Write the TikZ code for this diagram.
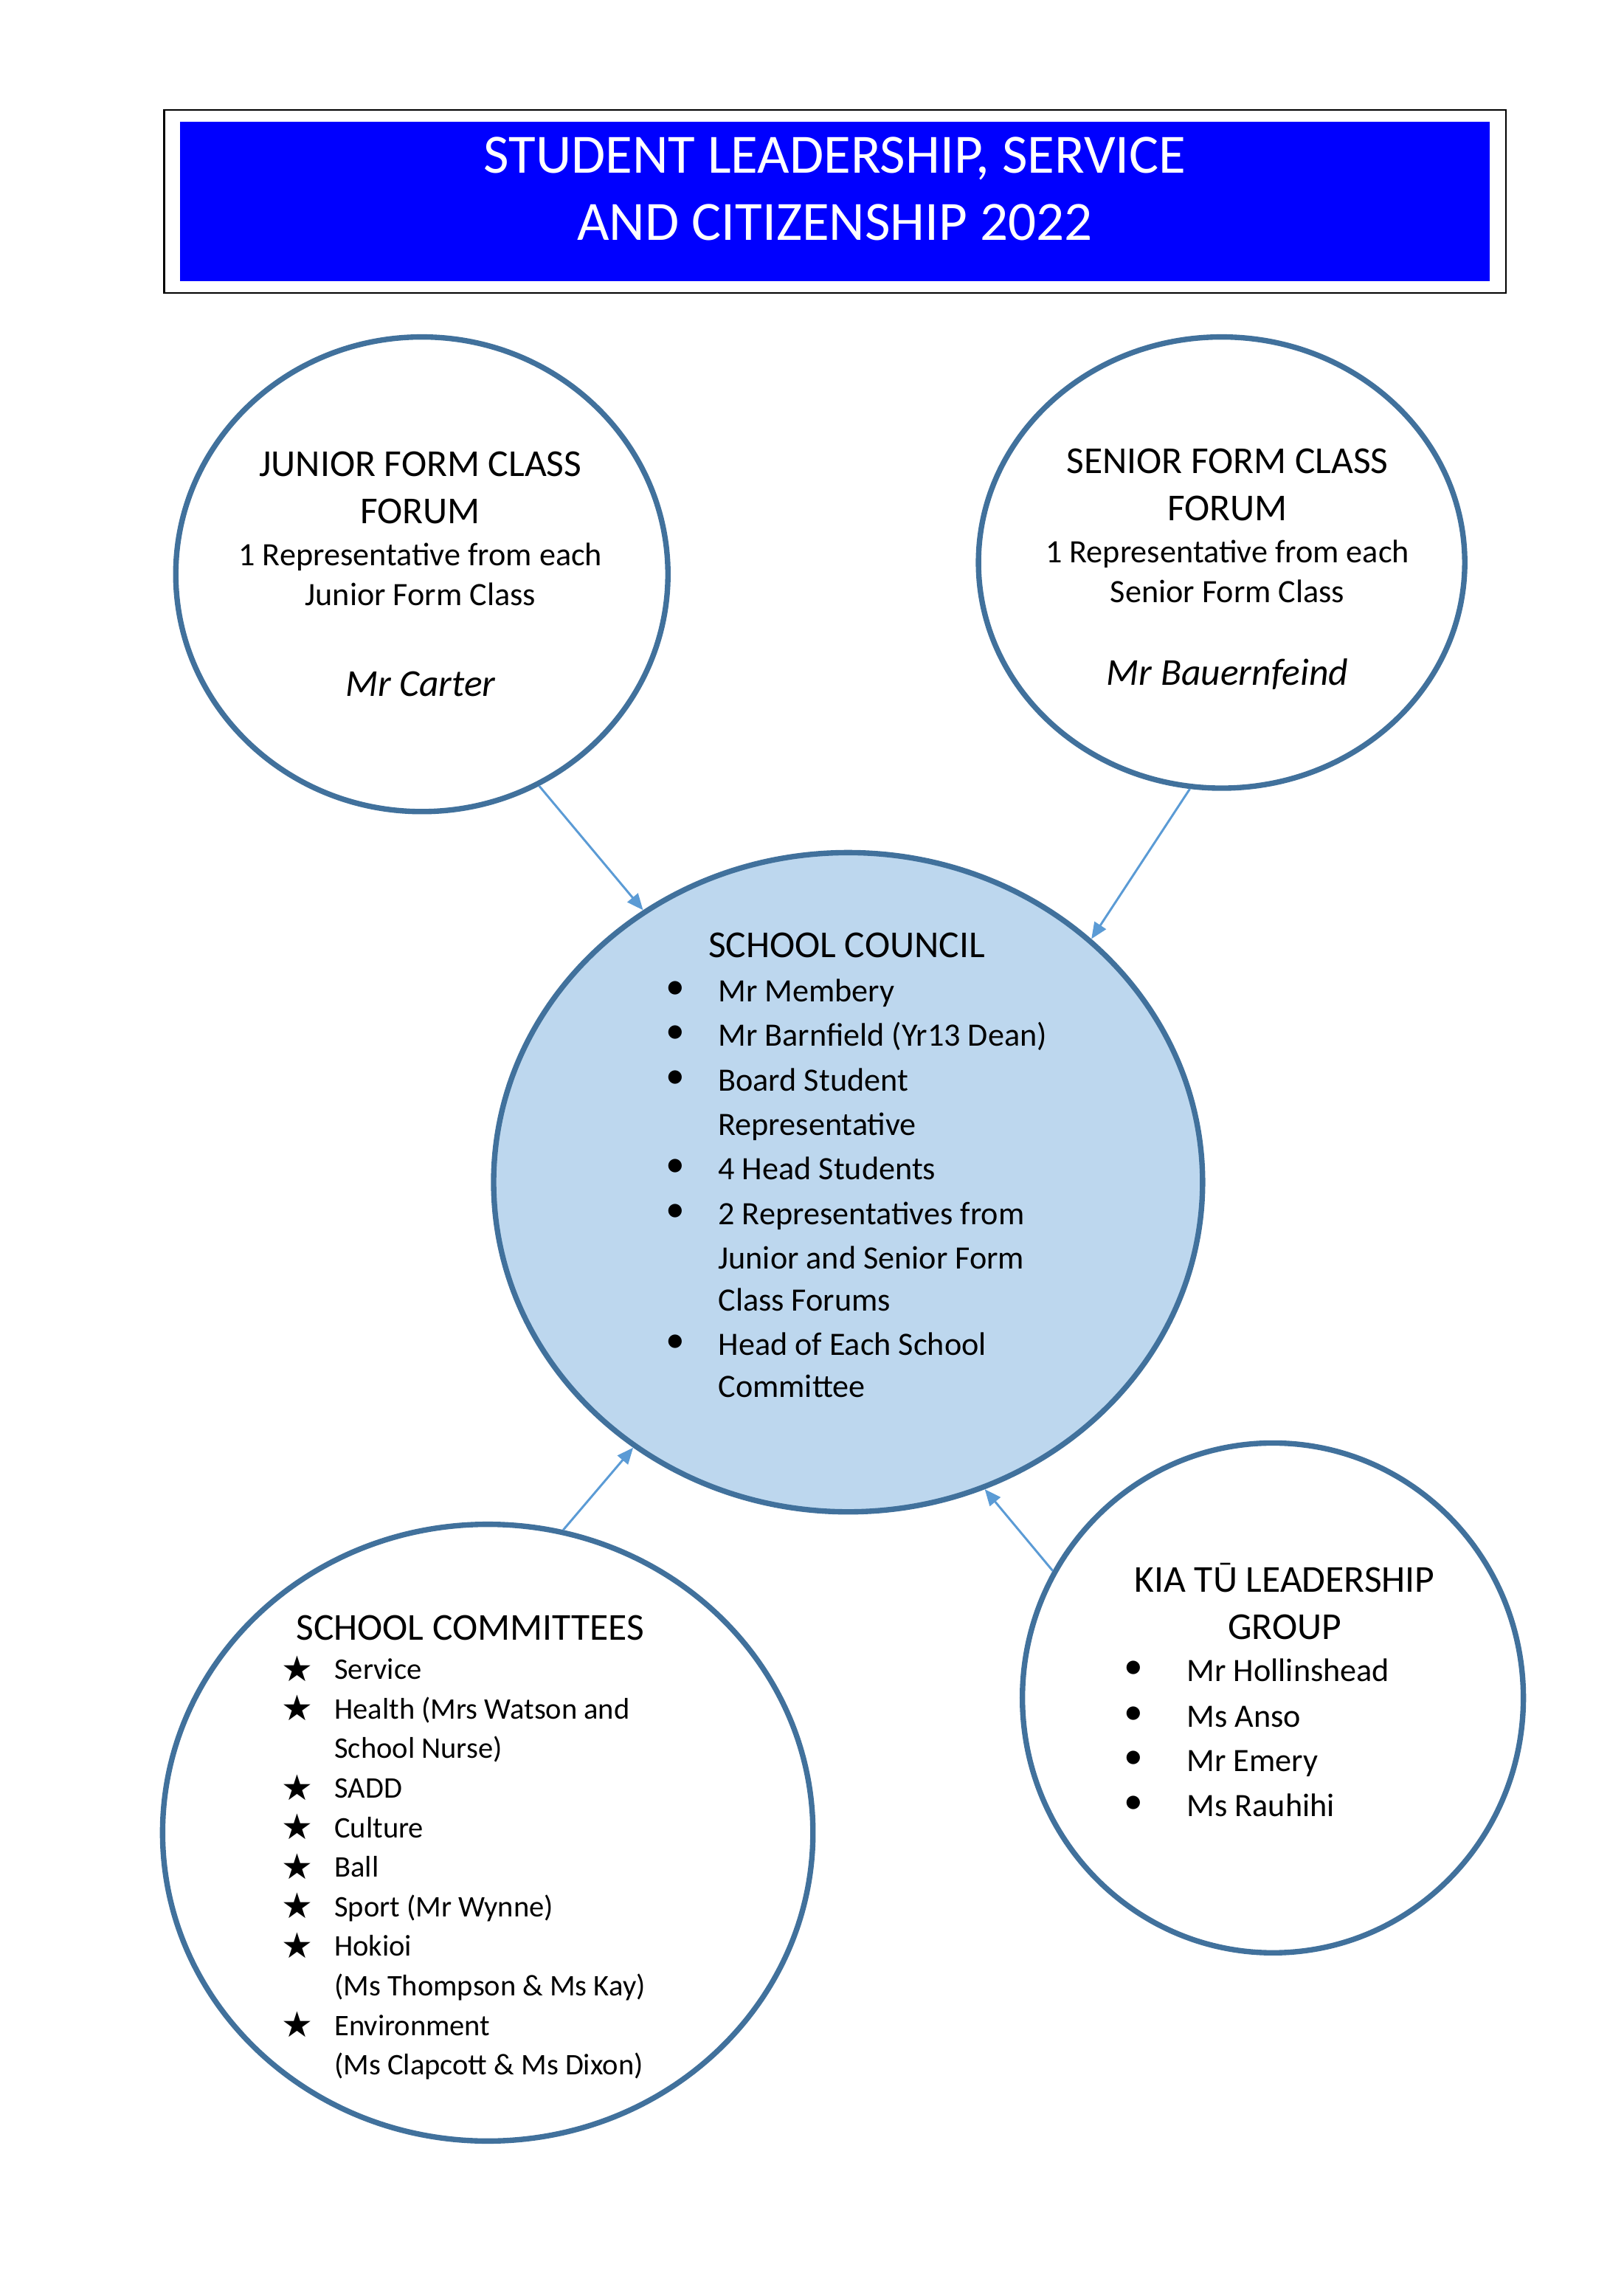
\documentclass[tikz,border=0pt]{standalone}
\usepackage{fontspec}
\setmainfont{Carlito}
\newfontfamily\starfont{DejaVu Sans}
\usetikzlibrary{shapes.geometric,arrows.meta}

\definecolor{ringblue}{HTML}{41719C}
\definecolor{councilfill}{HTML}{BDD7EE}
\definecolor{feedblue}{HTML}{5B9BD5}
\definecolor{titleblue}{HTML}{0000FF}

\tikzset{
  ring/.style={ellipse, draw=ringblue, line width=2pt, inner sep=0pt},
  headtext/.style={font=\fontsize{14}{17.4}\selectfont, align=center, inner sep=0pt},
  bodytext/.style={font=\fontsize{12}{14.65}\selectfont, align=center, inner sep=0pt},
  chairtext/.style={font=\fontsize{14}{17}\selectfont\itshape, inner sep=0pt},
  item/.style={anchor=west, font=\fontsize{12}{14.65}\selectfont, inner sep=0pt,
    text height=8.6pt, text depth=0pt},
  smallitem/.style={item, font=\fontsize{11}{14.65}\selectfont, text height=7.9pt},
  dot/.style={font=\fontsize{14}{14}\selectfont, inner sep=0pt},
  starmark/.style={font=\starfont\fontsize{13}{13}\selectfont, inner sep=0pt},
  feed/.style={draw=feedblue, line width=0.8pt, -{Triangle[length=6pt,width=5pt]}}
}

\begin{document}
\begin{tikzpicture}[x=0.01895cm,y=-0.01895cm]
  \def\u{0.01895cm}
  \useasboundingbox (0,0) rectangle (1108.2,1566.6);

  %%% title
  \draw[line width=0.7pt] (112,75) rectangle (1028,200);
  \fill[titleblue] (123,83) rectangle (1017,192);
  \node[font=\fontsize{20.4}{24.7}\selectfont, text=white, align=center] (title) at (570,129)
    {STUDENT LEADERSHIP, SERVICE\\AND CITIZENSHIP 2022};

  %%% circles
  \node[ring, minimum width=336*\u, minimum height=324*\u] (junior) at (288,392) {};
  \node[ring, minimum width=332*\u, minimum height=308*\u] (senior) at (834,384) {};
  \node[ring, fill=councilfill, minimum width=484*\u, minimum height=450*\u] (council) at (579,807) {};
  \node[ring, minimum width=444*\u, minimum height=421*\u] (committees) at (333,1251) {};
  \node[ring, minimum width=342*\u, minimum height=348*\u] (kiatu) at (869,1159) {};

  %%% junior forum
  \node[headtext] (juniorHead) at (287,333) {JUNIOR FORM CLASS\\FORUM};
  \node[bodytext] (juniorBody) at (287,392) {1 Representative from each\\Junior Form Class};
  \node[chairtext] (juniorChair) at (287,467) {Mr Carter};

  %%% senior forum
  \node[headtext] (seniorHead) at (838,331) {SENIOR FORM CLASS\\FORUM};
  \node[bodytext] (seniorBody) at (838,390) {1 Representative from each\\Senior Form Class};
  \node[chairtext] (seniorChair) at (838,460) {Mr Bauernfeind};

  %%% school council
  \node[headtext] (councilHead) at (578,645) {SCHOOL COUNCIL};
  \foreach \y in {676,706,737,797,828,917}
    \node[dot] (cdot\y) at (461,\y) {•};
  \foreach \y/\t in {676/Mr Membery, 706/Mr Barnfield (Yr13 Dean), 737/Board Student,
      767/Representative, 797/4 Head Students, 828/2 Representatives from,
      858/Junior and Senior Form, 887/Class Forums, 917/Head of Each School, 946/Committee}
    \node[item] (citem\y) at (490,\y) {\t};

  %%% school committees
  \node[headtext] (committeesHead) at (321,1111) {SCHOOL COMMITTEES};
  \foreach \y in {1139,1166,1220,1247,1274,1301,1328,1382}
    \node[starmark] (star\y) at (203,\y) {★};
  \foreach \y/\t in {1139/Service, 1166/Health (Mrs Watson and, 1193/School Nurse),
      1220/SADD, 1247/Culture, 1274/Ball, 1301/Sport (Mr Wynne), 1328/Hokioi,
      1355/(Ms Thompson \& Ms Kay), 1382/Environment, 1409/(Ms Clapcott \& Ms Dixon)}
    \node[smallitem] (mitem\y) at (228,\y) {\t};

  %%% kia tu
  \node[headtext] (kiatuHead) at (877,1093) {KIA TŪ LEADERSHIP\\GROUP};
  \foreach \y/\t in {1140/Mr Hollinshead, 1171/Ms Anso, 1201/Mr Emery, 1232/Ms Rauhihi}{
    \node[dot] (kdot\y) at (774,\y) {•};
    \node[item] (kitem\y) at (810,\y) {\t};
  }

  %%% arrows
  \draw[feed] (junior.-61) -- (council.127.4);
  \draw[feed] (senior.262.6) -- (council.45.5);
  \draw[feed] (committees.76.8) -- (council.231.9);
  \draw[feed] (kiatu.150.7) -- (council.-66.6);
\end{tikzpicture}
\end{document}
